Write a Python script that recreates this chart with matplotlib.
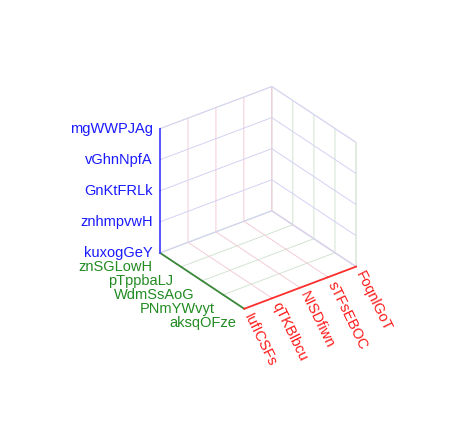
import numpy as np
import matplotlib.pyplot as plt
from matplotlib.transforms import offset_copy
from mpl_toolkits.mplot3d import proj3d

x_labels = ['znSGLowH', 'pTppbaLJ', 'WdmSsAoG', 'PNmYWvyt', 'aksqOFze']
y_labels = ['IufICSFs', 'qTKBlbcu', 'NISDfiwn', 'sTFsEBOC', 'FoqnlGoT']
z_labels = ['kuxogGeY', 'znhmpvwH', 'GnKtFRLk', 'vGhnNpfA', 'mgWWPJAg']

x_color = '#228b22'
y_color = '#ff1a1a'
z_color = '#1a1aff'
line_cols = {'x': '#3a8a3a', 'y': '#ff3030', 'z': '#4a4aff'}
grid_cols = {'x': '#d3e3d3', 'y': '#f4ccd6', 'z': '#d2d2f4'}

plt.rcParams['font.family'] = ['Liberation Sans', 'DejaVu Sans']

fig = plt.figure(figsize=(4.74, 4.33), dpi=100)
ax = fig.add_axes([0.032, 0.03, 1, 1], projection='3d', proj_type='ortho')
ax.view_init(elev=30, azim=-37)
ax.set_box_aspect((1, 1, 1.025), zoom=0.548)

n = len(x_labels)
ax.set_xlim(0, n - 1)
ax.set_ylim(0, n - 1)
ax.set_zlim(0, n - 1)
ax.set_xticks(np.arange(n))
ax.set_yticks(np.arange(n))
ax.set_zticks(np.arange(n))
ax.set_xticklabels([])
ax.set_yticklabels([])
ax.set_zticklabels([])
ax.zaxis.set_ticks_position('lower')

for name, axis in [('x', ax.xaxis), ('y', ax.yaxis), ('z', ax.zaxis)]:
    axis.pane.fill = False
    axis.pane.set_edgecolor('#d8d8d8')
    axis.line.set_color(line_cols[name])
    axis.line.set_linewidth(1.3)
    axis._axinfo['grid'].update(color=grid_cols[name], linewidth=0.7)
    axis._axinfo['tick'].update(inward_factor=0.0, outward_factor=0.04)
    ax.tick_params(axis=name, colors=line_cols[name], width=1.5)

fs = 10.5
tr_x = offset_copy(ax.transData, fig=fig, x=-8, y=-14, units='dots')
for i, lab in enumerate(x_labels):
    ax.text(i, 0, 0, lab, color=x_color, fontsize=fs, ha='right', va='center', transform=tr_x)

# red labels are rotated, so place them as 2D text at the projected tick spot
tr_y = offset_copy(ax.transData, fig=fig, x=3, y=-5, units='dots')
M = ax.get_proj()
for i, lab in enumerate(y_labels):
    px, py, _ = proj3d.proj_transform(n - 1, i, 0, M)
    ax.text2D(px, py, lab, color=y_color, fontsize=fs, ha='left', va='center',
              rotation=-64, rotation_mode='anchor', transform=tr_y)

tr_z = offset_copy(ax.transData, fig=fig, x=-7, y=0, units='dots')
for i, lab in enumerate(z_labels):
    ax.text(0, 0, i, lab, color=z_color, fontsize=fs, ha='right', va='center', transform=tr_z)

fig.savefig('out.png', dpi=100)
